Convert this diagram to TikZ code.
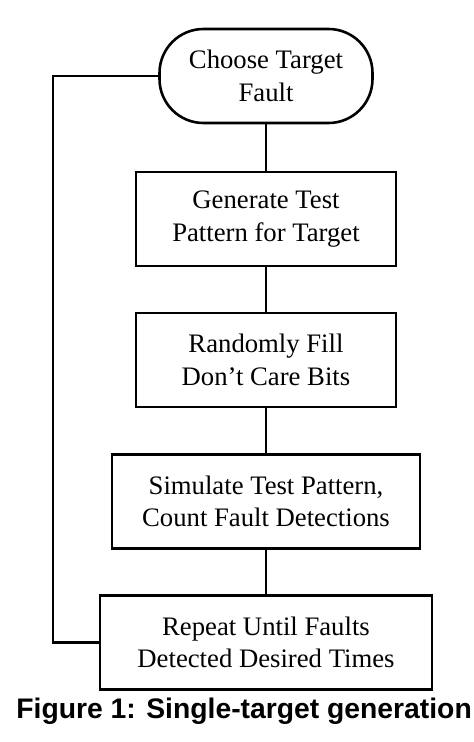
\documentclass[tikz,border=0pt]{standalone}
\usepackage{fontspec}
\setmainfont{Liberation Serif}
\newfontfamily\legende{Liberation Sans}
\usepackage{tikz}
\usetikzlibrary{positioning}

\tikzset{
  etape/.style={draw=black, line width=1.3pt, rectangle, align=center,
    inner sep=0pt, minimum height=47bp, font=\fontsize{13.4}{16.2}\selectfont},
  depart/.style={etape, rounded corners=22bp},
  lien/.style={line width=1.3pt}
}

\begin{document}
\begin{tikzpicture}[x=0.5bp, y=-0.5bp]
    \useasboundingbox (0,0) rectangle (474,742);
    % les cinq étapes
    \node[depart, minimum width=106.5bp] (choix) at (266,76) {Choose Target\\Fault};
    \node[etape, minimum width=130bp] (genere) at (266,219) {Generate Test\\Pattern for Target};
    \node[etape, minimum width=130bp] (remplit) at (266,360) {Randomly Fill\\Don't Care Bits};
    \node[etape, minimum width=154bp] (simule) at (266,501.5) {Simulate Test Pattern,\\Count Fault Detections};
    \node[etape, minimum width=166bp] (repete) at (266,642.5) {Repeat Until Faults\\Detected Desired Times};
    % liaisons verticales
    \draw[lien] (choix.south) -- (genere.north);
    \draw[lien] (genere.south) -- (remplit.north);
    \draw[lien] (remplit.south) -- (simule.north);
    \draw[lien] (simule.south) -- (repete.north);
    % boucle de retour
    \coordinate (coin) at (53,642.5);
    \draw[lien] (repete.west) -- (coin) |- (choix.west);
    % légende
    \node[anchor=base west, inner sep=0pt, font=\legende\bfseries\fontsize{14.2}{17}\selectfont]
      (titre) at (16,718) {Figure 1: Single-target generation};
\end{tikzpicture}
\end{document}
